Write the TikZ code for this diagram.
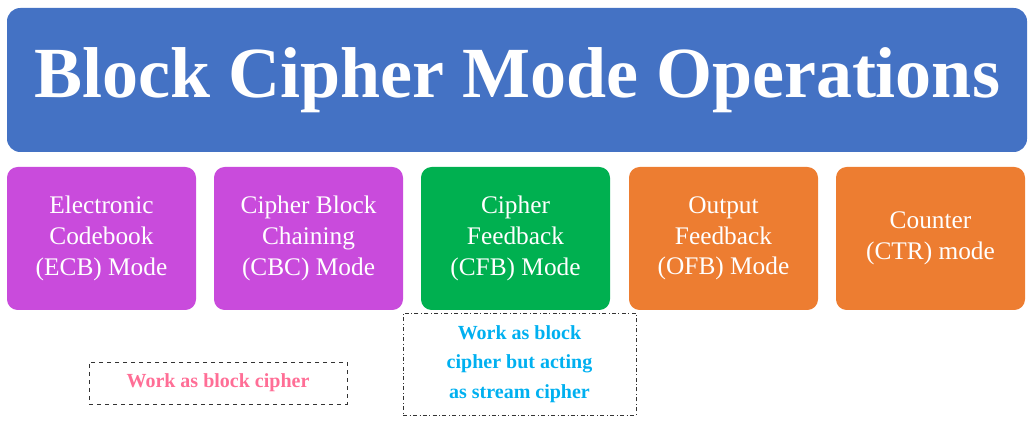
\documentclass[tikz,border=0pt]{standalone}
\usepackage{fontspec}
\setmainfont{Liberation Serif}
\definecolor{titleblue}{RGB}{68,114,196}
\definecolor{modepurple}{RGB}{201,75,220}
\definecolor{modegreen}{RGB}{0,176,80}
\definecolor{modeorange}{RGB}{237,125,49}
\definecolor{notepink}{RGB}{255,110,150}
\definecolor{notecyan}{RGB}{0,176,240}
\tikzset{mode style/.style={
		fill=#1,
		rounded corners=8pt,
		text=white,
		align=center,
		minimum width=189*0.75pt,
		minimum height=143*0.75pt,
		font=\fontsize{19}{23}\selectfont,
		inner sep=2pt,
	},
	note style/.style={
		draw=black!80,
		thin,
		text=#1,
		align=center,
		font=\fontsize{15}{22}\selectfont\bfseries,
	}
}
\begin{document}
\begin{tikzpicture}[x=0.75pt,y=-0.75pt]
	\useasboundingbox (0,0) rectangle (1034,423);
	\node[fill=titleblue, rounded corners=10pt, minimum width=1020*0.75pt,
		minimum height=144*0.75pt, text=white,
		font=\fontsize{54}{60}\selectfont\bfseries] (Title) at (517,80) {Block Cipher Mode Operations};
	
	\node[mode style=modepurple] (ECB) at (101.5,238.5) {Electronic\\Codebook\\(ECB) Mode};
	\node[mode style=modepurple] (CBC) at (308.5,238.5) {Cipher Block\\Chaining\\(CBC) Mode};
	\node[mode style=modegreen] (CFB) at (515.5,238.5) {Cipher\\Feedback\\(CFB) Mode};
	\node[mode style=modeorange] (OFB) at (723.5,238.5) {Output\\Feedback\\(OFB) Mode};
	\node[mode style=modeorange] (CTR) at (930.5,238.5) {Counter\\(CTR) mode};
	
	\node[note style=notepink, dashed, minimum width=258*0.75pt, minimum height=42*0.75pt] (BlockNote) at (218,383) {Work as block cipher};
	\node[note style=notecyan, dash dot, minimum width=233*0.75pt, minimum height=102*0.75pt] (StreamNote) at (519.5,364) {Work as block\\cipher but acting\\as stream cipher};
\end{tikzpicture}
\end{document}
